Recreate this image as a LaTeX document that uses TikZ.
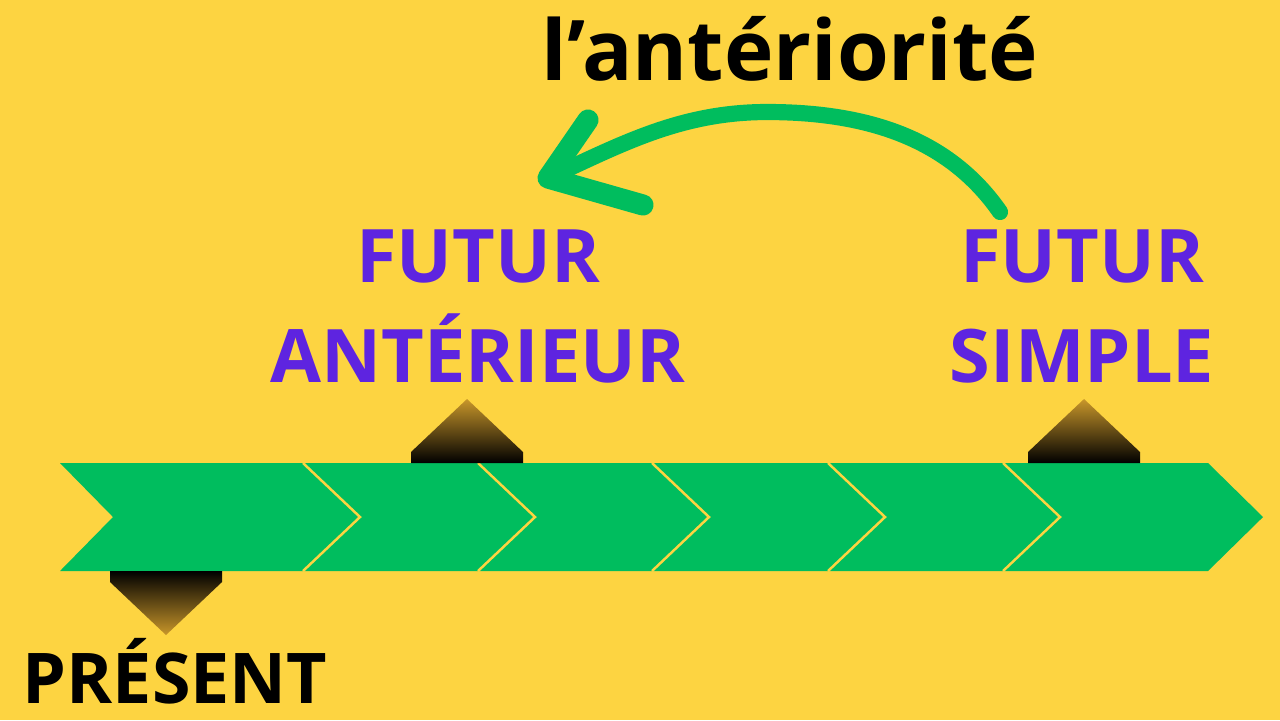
\documentclass[tikz,border=0pt]{standalone}
\usepackage{fontspec}
\setmainfont{Open Sans}
\usetikzlibrary{positioning}
\definecolor{BG}{HTML}{FDD441}
\definecolor{GR}{HTML}{00BD5E}
\definecolor{PU}{HTML}{5E24E0}
\definecolor{GD}{HTML}{C8962A}

\begin{document}
\begin{tikzpicture}[x=0.01cm,y=-0.01cm,
    tense/.style={font=\bfseries\fontsize{21}{28.2}\selectfont,
                  text=PU, align=center, inner sep=0pt},
    divider/.style={draw=BG, line width=0.7pt},
    tickup/.style={top color=GD, bottom color=black},
    tickdown/.style={top color=black, bottom color=GD},
    brush/.style={draw=GR, line cap=round, line join=round}]

    % background
    \fill[BG] (0,0) rectangle (1280,720);
    \useasboundingbox (0,0) rectangle (1280,720);

    % time line
    \fill[GR] (60,463) -- (1208,463) -- (1263,517) -- (1208,571)
              -- (60,571) -- (113,517) -- cycle;
    \foreach \x in {303,478,652,828,1003}
      \draw[divider] (\x,463) -- (\x+57,517) -- (\x,571);

    % markers
    \shade[tickup] (411,463) -- (411,452) -- (467,399) -- (523,452) -- (523,463) -- cycle;
    \shade[tickup] (1028,463) -- (1028,452) -- (1084,399) -- (1140,452) -- (1140,463) -- cycle;
    \shade[tickdown] (110,571) -- (110,582) -- (166,635) -- (222,582) -- (222,571) -- cycle;

    % labels
    \node[font=\bfseries\fontsize{23.8}{28}\selectfont, anchor=base, inner sep=0pt]
      (ante) at (790,80) {l’antériorité};
    \node[tense, anchor=base] (fa) at (478,382) {FUTUR\\ANTÉRIEUR};
    \node[tense, anchor=base] (fs) at (1082,382) {FUTUR\\SIMPLE};
    \node[font=\bfseries\fontsize{19.9}{28}\selectfont, anchor=base, inner sep=0pt]
      (pres) at (175,703) {PRÉSENT};

    % arrow
    \coordinate (from) at (1000,212);
    \coordinate (to) at (548,178);
    \draw[brush, line width=4.6pt] (from) .. controls (950,140) and (870,112) .. (767,112)
      .. controls (680,112) and (620,145) .. (to);
    \draw[brush, line width=6pt] (588,120) -- (to) -- (643,205);
\end{tikzpicture}
\end{document}
